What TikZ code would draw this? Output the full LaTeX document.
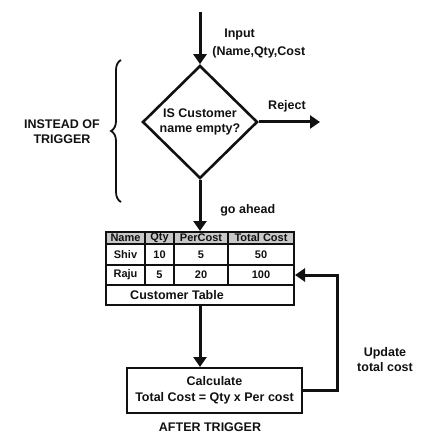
\documentclass[tikz,border=0pt]{standalone}
\usepackage{fontspec}
\setmainfont{Liberation Sans}
\usetikzlibrary{arrows.meta,shapes.geometric,decorations.pathreplacing}
\definecolor{TrgInk}{HTML}{111111}
\definecolor{TrgHead}{HTML}{C8C8C8}

\begin{document}
\begin{tikzpicture}[x=1pt,y=-1pt,line width=2pt,draw=TrgInk,text=TrgInk,
    font=\bfseries\fontsize{12.5}{15}\selectfont,
    flow/.style={line width=3pt,-{Triangle[length=10pt,width=13pt]}},
    celltxt/.style={font=\bfseries\fontsize{11}{13}\selectfont,inner sep=0pt}]
  \useasboundingbox (0,0) rectangle (427,443);
  % decision
  \node[draw,diamond,line width=2.6pt,minimum width=115pt,minimum height=113pt,align=center,inner sep=0pt]
    (check) at (200,122) {IS Customer\\name empty?};
  \coordinate (src) at (200,12);
  \coordinate (rej) at (320,122);
  \draw[flow] (src) -- (check.north);
  \draw[flow] (check.east) -- (rej);
  \node (rejlbl) at (287,106) {Reject};
  \node[anchor=west] (inlbl) at (220,35) {Input};
  \node[anchor=west] (inargs) at (208,52) {(Name,Qty,Cost};
  \draw[decorate,decoration={brace,amplitude=10pt},line width=1.8pt] (121,202) -- (121,60);
  \node[align=center] (instead) at (62,132) {INSTEAD OF\\TRIGGER};
  % table
  \fill[TrgHead] (106,232) rectangle (294,244);
  \draw[line width=1.4pt] (106,244) -- (294,244) (106,265) -- (294,265) (106,285) -- (294,285);
  \draw[line width=1.4pt] (145,232) -- (145,285) (174,232) -- (174,285) (228,232) -- (228,285);
  \node[draw,minimum width=188pt,minimum height=73pt,inner sep=0pt] (tbl) at (200,268.5) {};
  \node[celltxt] (hname) at (125.5,238) {Name};
  \node[celltxt] (hqty) at (159.5,238) {Qty};
  \node[celltxt] (hper) at (201,238) {PerCost};
  \node[celltxt] (htot) at (261,238) {Total Cost};
  \node[celltxt] (shivname) at (125.5,255) {Shiv};
  \node[celltxt] (shivqty) at (159.5,255) {10};
  \node[celltxt] (shivper) at (201,255) {5};
  \node[celltxt] (shivtot) at (261,255) {50};
  \node[celltxt] (rajuname) at (125.5,275) {Raju};
  \node[celltxt] (rajuqty) at (159.5,275) {5};
  \node[celltxt] (rajuper) at (201,275) {20};
  \node[celltxt] (rajutot) at (261,275) {100};
  \node (tbllbl) at (177,295) {Customer Table};
  \draw[flow] (check.south) -- (tbl.north);
  \node[anchor=west] (golbl) at (216,210) {go ahead};
  % after trigger
  \node[draw,minimum width=175pt,minimum height=45pt,align=center,inner sep=2pt]
    (calc) at (214.5,390.5) {Calculate\\[1pt]Total Cost = Qty x Per cost};
  \draw[flow] (tbl.south) -- (tbl.south |- calc.north);
  \coordinate (loop) at (337,275);
  \draw[flow] (calc.east) -| (loop) -- (tbl.east |- loop);
  \node[align=center] (updlbl) at (385,360) {Update\\total cost};
  \node (afterlbl) at (210,427) {AFTER TRIGGER};
\end{tikzpicture}
\end{document}
